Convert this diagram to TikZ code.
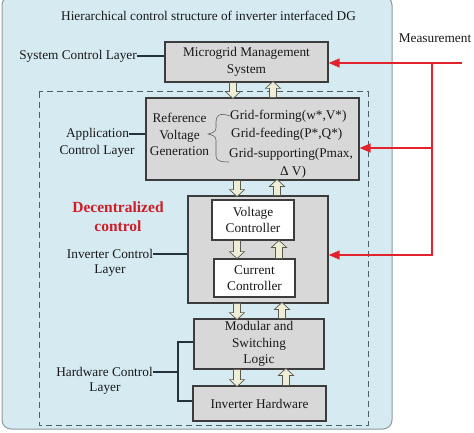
\documentclass[tikz,border=0pt]{standalone}
\usepackage{fontspec}
\setmainfont{Liberation Serif}
\usetikzlibrary{arrows.meta}
\definecolor{bgblue}{RGB}{214,234,242}
\definecolor{outbord}{RGB}{140,155,162}
\definecolor{boxgray}{RGB}{216,216,216}
\definecolor{bord}{RGB}{60,60,60}
\definecolor{arrfill}{RGB}{238,238,215}
\definecolor{arrbord}{RGB}{90,90,80}
\definecolor{txt}{RGB}{25,25,25}
\definecolor{lblline}{RGB}{35,50,60}
\definecolor{dashc}{RGB}{75,95,105}
\definecolor{mred}{RGB}{226,35,45}
\definecolor{decred}{RGB}{205,30,40}
\begin{document}
\begin{tikzpicture}[x=1pt,y=-1pt,
  every node/.style={font=\fontsize{13.3}{16.5}\selectfont, text=txt, inner sep=0pt},
  gbox/.style={draw=bord, line width=1.2pt, fill=boxgray, align=center},
  wbox/.style={draw=bord, line width=1.2pt, fill=white, align=center},
  barr/.style={draw=arrbord, line width=0.7pt, fill=arrfill},
  lbl/.style={line width=1.1pt, draw=lblline},
  meas/.style={draw=mred, line width=1.3pt},
  measarr/.style={meas, -{Triangle[length=11pt,width=9pt]}},
  pics/blkdn/.style={code={\filldraw[barr] (-3.5,0) -- (3.5,0) -- (3.5,#1-7) -- (7.5,#1-7) -- (0,#1) -- (-7.5,#1-7) -- (-3.5,#1-7) -- cycle;}},
  pics/blkup/.style={code={\filldraw[barr] (-3.5,0) -- (-3.5,-#1+7) -- (-7.5,-#1+7) -- (0,-#1) -- (7.5,-#1+7) -- (3.5,-#1+7) -- (3.5,0) -- cycle;}},
]
\useasboundingbox (0,0) rectangle (474,433);
\clip (0,0) rectangle (474,433);
\fill[white] (0,0) rectangle (474,433);
\draw[draw=outbord, fill=bgblue, line width=1pt, rounded corners=9pt] (2,-4) rectangle (392,429);
\draw[dashc, line width=1pt, dash pattern=on 6pt off 4pt] (39,92) rectangle (368,425);

\node (title) at (208.5,16) {Hierarchical control structure of inverter interfaced DG};
\node (meastxt) at (435,38) {Measurement};

% boxes
\node[gbox, minimum width=163, minimum height=40] (mgs) at (246.5,62) {Microgrid Management\\System};
\node[gbox, minimum width=213, minimum height=82] (app) at (252.5,139) {};
\node[gbox, minimum width=140, minimum height=107] (inv) at (258,249.5) {};
\node[wbox, minimum width=82, minimum height=40] (vc) at (253,220) {Voltage\\Controller};
\node[wbox, minimum width=81, minimum height=38] (cc) at (254.5,278) {Current\\Controller};
\node[gbox, minimum width=130, minimum height=50] (mod) at (259,344) {Modular and\\Switching\\Logic};
\node[gbox, minimum width=133, minimum height=35] (hw) at (259.5,403.5) {Inverter Hardware};

% application box content
\node[align=center] (refv) at (179.5,134.5) {Reference\\Voltage\\Generation};
\node[anchor=west] (gf1) at (230,116) {Grid-forming(w*,V*)};
\node[anchor=west] (gf2) at (231,134.5) {Grid-feeding(P*,Q*)};
\node[anchor=west] (gf3) at (229,154) {Grid-supporting(Pmax,};
\node (gf4) at (293,172.5) {Δ V)};
\draw[draw=bord!80, line width=0.6pt] (gf1.west) .. controls (219,112) and (216,116) .. (216,122) -- (216,128) .. controls (216,132) and (212,133) .. (208,134) .. controls (212,135) and (216,136) .. (216,140) -- (216,156) .. controls (216,160) and (219,162) .. (229,162);

% layer labels
\node[anchor=east] (syslbl) at (137,56) {System Control Layer};
\draw[lbl] (syslbl.east) -- (mgs.west |- syslbl.east);
\node (appl1) at (97.5,134) {Application};
\node (appl2) at (97,151) {Control Layer};
\draw[lbl] (appl1.east) -- (app.west |- appl1.east);
\node (invl1) at (110,254) {Inverter Control};
\node (invl2) at (110,271) {Layer};
\draw[lbl] (invl1.east) -- (inv.west |- invl1.east);
\node (hwl1) at (104.5,372) {Hardware Control};
\node (hwl2) at (105,388.5) {Layer};
\coordinate (hjt) at (178,342);
\coordinate (hjb) at (178,401);
\draw[lbl] (mod.west |- hjt) -- (hjt) -- (hjb) -- (hw.west |- hjb);
\draw[lbl] (hwl1.east) -- (hwl1.east -| hjt);

\node[font=\fontsize{15.5}{19}\selectfont\bfseries, text=decred, align=center] (dec) at (118,216.5) {Decentralized\\control};

% block arrows
\pic at (mgs.south -| 233,0) {blkdn=16};
\pic at (app.north -| 273,0) {blkup=16};
\pic at (app.south -| 237,0) {blkdn=16};
\pic at (inv.north -| 277,0) {blkup=16};
\pic at (vc.south -| 237,0) {blkdn=18};
\pic at (cc.north -| 279,0) {blkup=18};
\pic at (inv.south -| 237,0) {blkdn=16};
\pic at (mod.north -| 282,0) {blkup=16};
\pic at (mod.south -| 237,0) {blkdn=17};
\pic at (hw.north -| 286,0) {blkup=17};

% measurement lines
\coordinate (mstart) at (462,63);
\coordinate (mj) at (432,63);
\coordinate (mj2) at (432,148);
\coordinate (mj3) at (432,255);
\draw[measarr] (mstart) -- (mgs.east |- mstart);
\draw[measarr] (mj2) -- (app.east |- mj2);
\draw[measarr] (mj) -- (mj3) -- (inv.east |- mj3);
\end{tikzpicture}
\end{document}
